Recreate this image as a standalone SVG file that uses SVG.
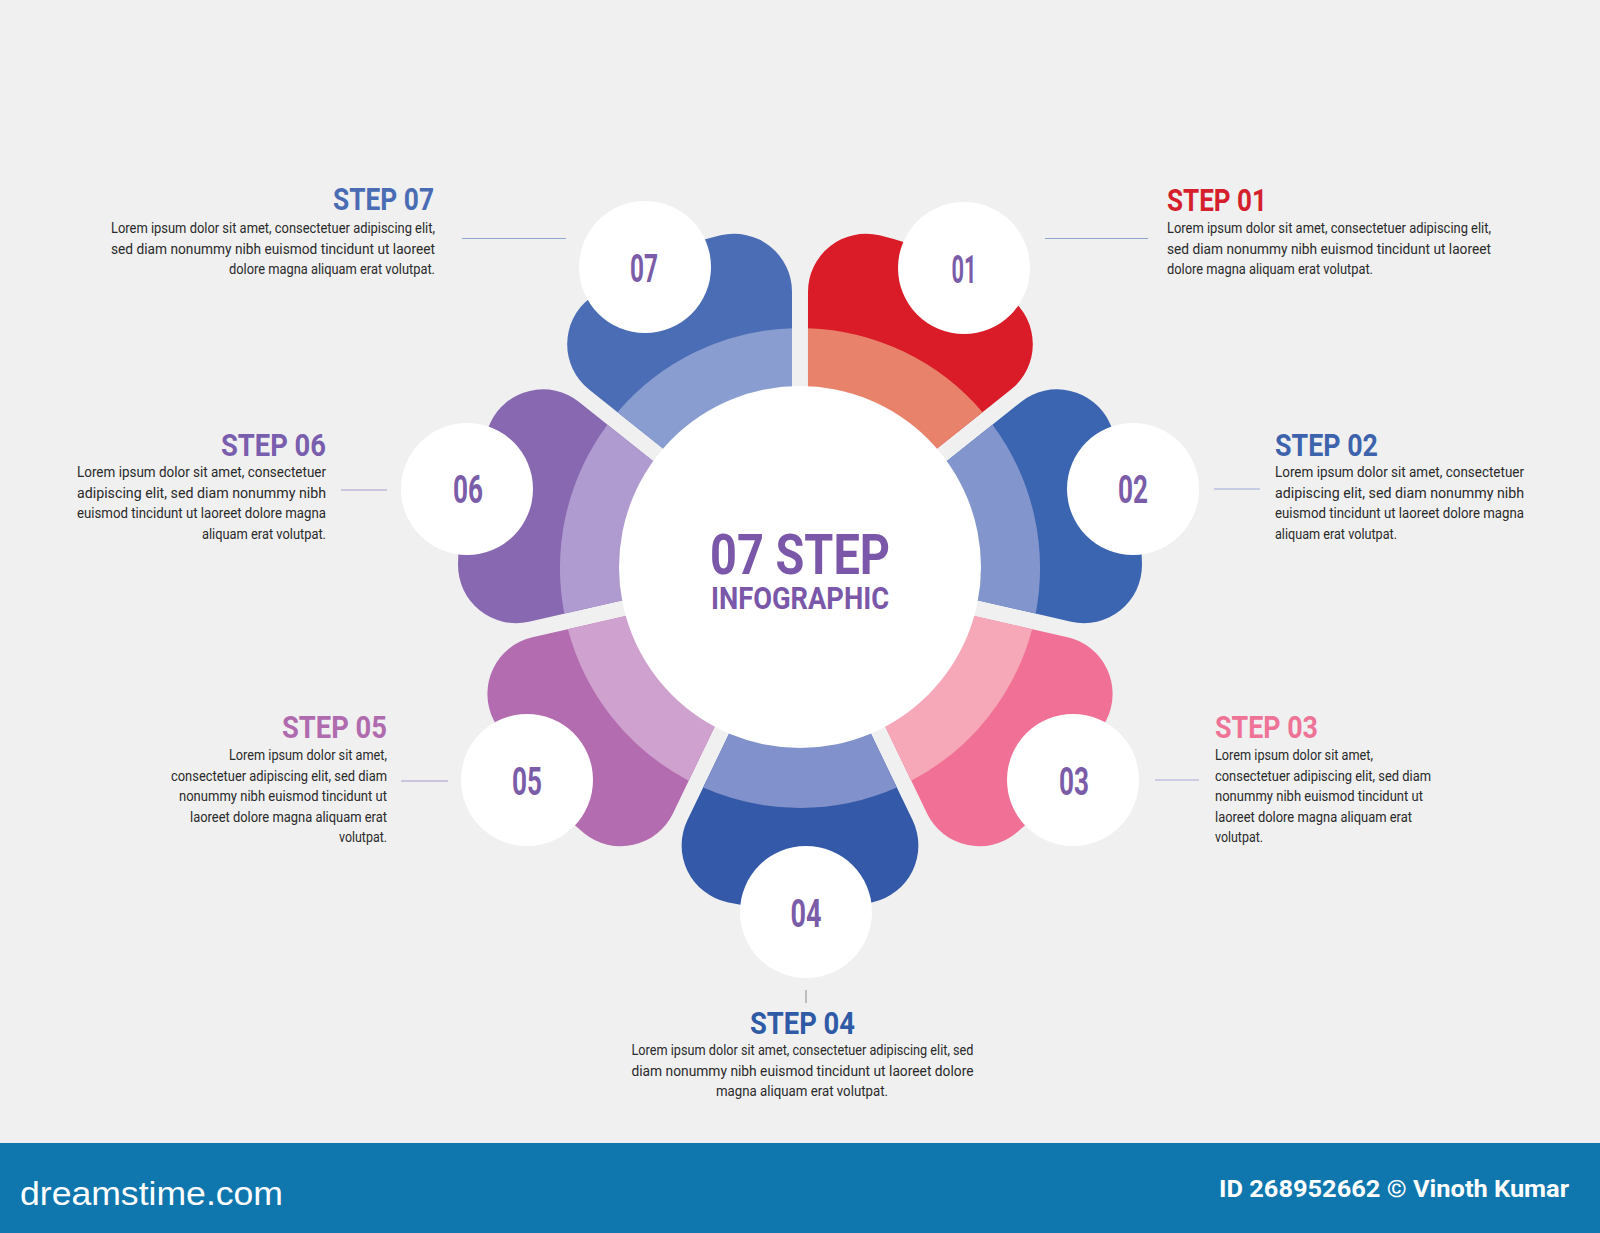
<svg xmlns="http://www.w3.org/2000/svg" xmlns:xlink="http://www.w3.org/1999/xlink" width="1600" height="1233" viewBox="0 0 1600 1233">
<style>
.t{font-family:Roboto,'Liberation Sans',sans-serif;font-weight:700;font-size:31px}
.n{font-family:Roboto,'Liberation Sans',sans-serif;font-weight:700;font-size:38px;fill:#7a5ca9;text-anchor:middle}
.b{font-family:Roboto,'Liberation Sans',sans-serif;font-size:14.8px;fill:#2a2a2a}
.c{fill:none;stroke-width:1.2}
</style>
<defs>
<path id="petal" d="M0,-18.44 L112.65,-252.33 A58,58 0 0 0 72.72,-334.17 A342,342 0 0 0 -72.72,-334.17 A58,58 0 0 0 -112.65,-252.33 Z"/>
<path id="ring" d="M66.47,-156.47 L96.87,-219.59 A240,240 0 0 0 -96.87,-219.59 L-66.47,-156.47 A170,170 0 0 1 66.47,-156.47 Z"/>
</defs>
<rect x="0" y="0" width="1600" height="1233" fill="#f0f0f1"/>

<g id="connectors">
<line class="c" x1="462" y1="238.5" x2="566" y2="238.5" stroke="#8fa6cc"/>
<line class="c" x1="1045" y1="238.5" x2="1148" y2="238.5" stroke="#8fa6cc"/>
<line class="c" x1="1214" y1="489" x2="1260" y2="489" stroke="#9aa8d8"/>
<line class="c" x1="1155" y1="780" x2="1199" y2="780" stroke="#a8a8d8"/>
<line class="c" x1="806" y1="990" x2="806" y2="1003" stroke="#9a9a9a"/>
<line class="c" x1="401" y1="781" x2="448" y2="781" stroke="#a99ad0"/>
<line class="c" x1="341" y1="490" x2="387" y2="490" stroke="#a99ad0"/>
</g>

<g id="step01">
<use xlink:href="#petal" transform="translate(800,568) rotate(25.714)" fill="#d91c27"/>
<use xlink:href="#ring" transform="translate(800,568) rotate(25.714)" fill="#e9826a"/>
</g>
<g id="step02">
<use xlink:href="#petal" transform="translate(800,568) rotate(77.143)" fill="#3b65b0"/>
<use xlink:href="#ring" transform="translate(800,568) rotate(77.143)" fill="#8395cd"/>
</g>
<g id="step03">
<use xlink:href="#petal" transform="translate(800,568) rotate(128.571)" fill="#f07195"/>
<use xlink:href="#ring" transform="translate(800,568) rotate(128.571)" fill="#f6a7b8"/>
</g>
<g id="step04">
<use xlink:href="#petal" transform="translate(800,568) rotate(180)" fill="#3359a8"/>
<use xlink:href="#ring" transform="translate(800,568) rotate(180)" fill="#8091cc"/>
</g>
<g id="step05">
<use xlink:href="#petal" transform="translate(800,568) rotate(231.429)" fill="#b46cb0"/>
<use xlink:href="#ring" transform="translate(800,568) rotate(231.429)" fill="#cfa1ce"/>
</g>
<g id="step06">
<use xlink:href="#petal" transform="translate(800,568) rotate(282.857)" fill="#8869b1"/>
<use xlink:href="#ring" transform="translate(800,568) rotate(282.857)" fill="#b09bd0"/>
</g>
<g id="step07">
<use xlink:href="#petal" transform="translate(800,568) rotate(334.286)" fill="#4a6db5"/>
<use xlink:href="#ring" transform="translate(800,568) rotate(334.286)" fill="#8a9dd0"/>
</g>

<g id="center">
<circle cx="800" cy="567" r="181" fill="#ffffff"/>
<text x="800" y="574" text-anchor="middle" font-family="Roboto,'Liberation Sans',sans-serif" font-weight="700" font-size="56" fill="#7a57a8" textLength="180" lengthAdjust="spacingAndGlyphs">07 STEP</text>
<text x="800" y="609" text-anchor="middle" font-family="Roboto,'Liberation Sans',sans-serif" font-weight="700" font-size="31" fill="#7a57a8" textLength="178" lengthAdjust="spacingAndGlyphs">INFOGRAPHIC</text>
</g>

<g id="badge01"><circle cx="964" cy="268" r="66" fill="#fff"/><text class="n" x="964" y="283" textLength="25" lengthAdjust="spacingAndGlyphs">01</text></g>
<g id="badge02"><circle cx="1133" cy="489" r="66" fill="#fff"/><text class="n" x="1133" y="503" textLength="30" lengthAdjust="spacingAndGlyphs">02</text></g>
<g id="badge03"><circle cx="1073" cy="780" r="66" fill="#fff"/><text class="n" x="1074" y="795" textLength="30" lengthAdjust="spacingAndGlyphs">03</text></g>
<g id="badge04"><circle cx="806" cy="912" r="66" fill="#fff"/><text class="n" x="806" y="926.5" textLength="31" lengthAdjust="spacingAndGlyphs">04</text></g>
<g id="badge05"><circle cx="527" cy="780" r="66" fill="#fff"/><text class="n" x="527" y="795" textLength="30" lengthAdjust="spacingAndGlyphs">05</text></g>
<g id="badge06"><circle cx="467" cy="489" r="66" fill="#fff"/><text class="n" x="468" y="503" textLength="30" lengthAdjust="spacingAndGlyphs">06</text></g>
<g id="badge07"><circle cx="645" cy="267" r="66" fill="#fff"/><text class="n" x="644" y="281.5" textLength="28" lengthAdjust="spacingAndGlyphs">07</text></g>

<g id="text07">
<text class="t" x="434" y="210" text-anchor="end" fill="#4a6cb4" textLength="101" lengthAdjust="spacingAndGlyphs">STEP 07</text>
<text class="b" x="111" y="233" textLength="324" lengthAdjust="spacingAndGlyphs">Lorem ipsum dolor sit amet, consectetuer adipiscing elit,</text>
<text class="b" x="111" y="253.5" textLength="324" lengthAdjust="spacingAndGlyphs">sed diam nonummy nibh euismod tincidunt ut laoreet</text>
<text class="b" x="435" y="274" text-anchor="end" textLength="206" lengthAdjust="spacingAndGlyphs">dolore magna aliquam erat volutpat.</text>
</g>
<g id="text01">
<text class="t" x="1167" y="211" fill="#d51f2c" textLength="100" lengthAdjust="spacingAndGlyphs">STEP 01</text>
<text class="b" x="1167" y="233" textLength="324" lengthAdjust="spacingAndGlyphs">Lorem ipsum dolor sit amet, consectetuer adipiscing elit,</text>
<text class="b" x="1167" y="253.5" textLength="324" lengthAdjust="spacingAndGlyphs">sed diam nonummy nibh euismod tincidunt ut laoreet</text>
<text class="b" x="1167" y="274" textLength="206" lengthAdjust="spacingAndGlyphs">dolore magna aliquam erat volutpat.</text>
</g>
<g id="text06">
<text class="t" x="326" y="455.5" text-anchor="end" fill="#7a5eae" textLength="105" lengthAdjust="spacingAndGlyphs">STEP 06</text>
<text class="b" x="77" y="477" textLength="249" lengthAdjust="spacingAndGlyphs">Lorem ipsum dolor sit amet, consectetuer</text>
<text class="b" x="77" y="497.5" textLength="249" lengthAdjust="spacingAndGlyphs">adipiscing elit, sed diam nonummy nibh</text>
<text class="b" x="77" y="518" textLength="249" lengthAdjust="spacingAndGlyphs">euismod tincidunt ut laoreet dolore magna</text>
<text class="b" x="326" y="538.5" text-anchor="end" textLength="124" lengthAdjust="spacingAndGlyphs">aliquam erat volutpat.</text>
</g>
<g id="text02">
<text class="t" x="1275" y="455.5" fill="#3d63ad" textLength="103" lengthAdjust="spacingAndGlyphs">STEP 02</text>
<text class="b" x="1275" y="477" textLength="249" lengthAdjust="spacingAndGlyphs">Lorem ipsum dolor sit amet, consectetuer</text>
<text class="b" x="1275" y="497.5" textLength="249" lengthAdjust="spacingAndGlyphs">adipiscing elit, sed diam nonummy nibh</text>
<text class="b" x="1275" y="518" textLength="249" lengthAdjust="spacingAndGlyphs">euismod tincidunt ut laoreet dolore magna</text>
<text class="b" x="1275" y="538.5" textLength="122" lengthAdjust="spacingAndGlyphs">aliquam erat volutpat.</text>
</g>
<g id="text05">
<text class="t" x="387" y="738" text-anchor="end" fill="#b06bae" textLength="105" lengthAdjust="spacingAndGlyphs">STEP 05</text>
<text class="b" x="387" y="760" text-anchor="end" textLength="158" lengthAdjust="spacingAndGlyphs">Lorem ipsum dolor sit amet,</text>
<text class="b" x="387" y="780.5" text-anchor="end" textLength="216" lengthAdjust="spacingAndGlyphs">consectetuer adipiscing elit, sed diam</text>
<text class="b" x="387" y="801" text-anchor="end" textLength="208" lengthAdjust="spacingAndGlyphs">nonummy nibh euismod tincidunt ut</text>
<text class="b" x="387" y="821.5" text-anchor="end" textLength="197" lengthAdjust="spacingAndGlyphs">laoreet dolore magna aliquam erat</text>
<text class="b" x="387" y="842" text-anchor="end" textLength="48" lengthAdjust="spacingAndGlyphs">volutpat.</text>
</g>
<g id="text03">
<text class="t" x="1215" y="738" fill="#ee7396" textLength="103" lengthAdjust="spacingAndGlyphs">STEP 03</text>
<text class="b" x="1215" y="760" textLength="158" lengthAdjust="spacingAndGlyphs">Lorem ipsum dolor sit amet,</text>
<text class="b" x="1215" y="780.5" textLength="216" lengthAdjust="spacingAndGlyphs">consectetuer adipiscing elit, sed diam</text>
<text class="b" x="1215" y="801" textLength="208" lengthAdjust="spacingAndGlyphs">nonummy nibh euismod tincidunt ut</text>
<text class="b" x="1215" y="821.5" textLength="197" lengthAdjust="spacingAndGlyphs">laoreet dolore magna aliquam erat</text>
<text class="b" x="1215" y="842" textLength="48" lengthAdjust="spacingAndGlyphs">volutpat.</text>
</g>
<g id="text04">
<text class="t" x="802.5" y="1034" text-anchor="middle" fill="#2f5aa6" textLength="105" lengthAdjust="spacingAndGlyphs">STEP 04</text>
<text class="b" x="631.5" y="1055" textLength="342" lengthAdjust="spacingAndGlyphs">Lorem ipsum dolor sit amet, consectetuer adipiscing elit, sed</text>
<text class="b" x="631.5" y="1075.5" textLength="342" lengthAdjust="spacingAndGlyphs">diam nonummy nibh euismod tincidunt ut laoreet dolore</text>
<text class="b" x="802" y="1096" text-anchor="middle" textLength="172" lengthAdjust="spacingAndGlyphs">magna aliquam erat volutpat.</text>
</g>

<g id="footer">
<rect x="0" y="1143" width="1600" height="90" fill="#0f77ae"/>
<text x="20" y="1205" font-family="'Liberation Sans',sans-serif" font-size="34" fill="#fff" textLength="263" lengthAdjust="spacingAndGlyphs">dreamstime.com</text>
<text x="1569" y="1197" text-anchor="end" font-family="Roboto,'Liberation Sans',sans-serif" font-weight="700" font-size="24" fill="#fff" textLength="350" lengthAdjust="spacingAndGlyphs">ID 268952662 © Vinoth Kumar</text>
</g>
</svg>
